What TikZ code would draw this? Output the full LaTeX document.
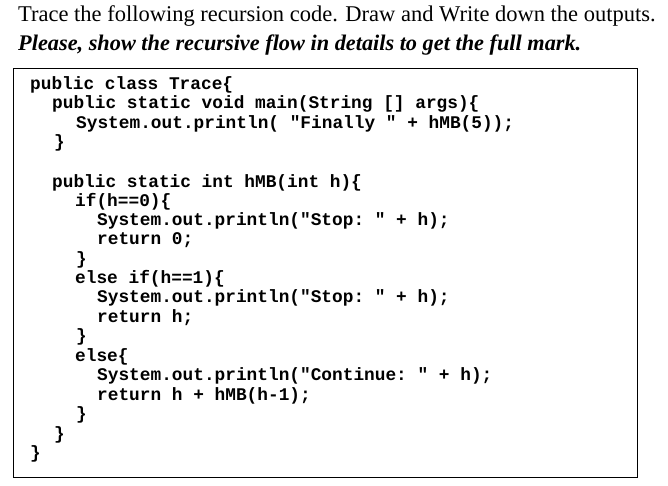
\documentclass[tikz,border=0pt]{standalone}
\usepackage{fontspec}
\setmainfont{Liberation Serif}
\setmonofont{Liberation Mono}
\begin{document}
\begin{tikzpicture}[x=1pt,y=-1pt,
  code/.style={anchor=west,inner sep=0pt,font=\ttfamily\bfseries\fontsize{17.8}{19}\selectfont},
  ttl/.style={anchor=west,inner sep=0pt}]
\useasboundingbox (0,0) rectangle (668,485);
\node[ttl,font=\fontsize{22.5}{24}\selectfont] (t1) at (18,16) {Trace the following recursion code. Draw and Write down the outputs.};
\node[ttl,font=\bfseries\itshape\fontsize{22.3}{24}\selectfont] (t2) at (18,45) {Please, show the recursive flow in details to get the full mark.};
\node[draw,line width=0.8pt,minimum width=624pt,minimum height=409pt,anchor=north west,inner sep=0pt] (box) at (13,68) {};
\node[code] (l1) at (30,85) {public class Trace\{};
\node[code] (l2) at (52,104) {public static void main(String [] args)\{};
\node[code] (l3) at (76,124) {System.out.println( "Finally " + hMB(5));};
\node[code] (l4) at (54,143) {\}};
\node[code] (l5) at (52,183) {public static int hMB(int h)\{};
\node[code] (l6) at (75,202) {if(h==0)\{};
\node[code] (l7) at (97,221) {System.out.println("Stop: " + h);};
\node[code] (l8) at (97,240) {return 0;};
\node[code] (l9) at (76,260) {\}};
\node[code] (l10) at (75,279) {else if(h==1)\{};
\node[code] (l11) at (97,298) {System.out.println("Stop: " + h);};
\node[code] (l12) at (97,318) {return h;};
\node[code] (l13) at (76,337) {\}};
\node[code] (l14) at (75,357) {else\{};
\node[code] (l15) at (97,376) {System.out.println("Continue: " + h);};
\node[code] (l16) at (97,396) {return h + hMB(h-1);};
\node[code] (l17) at (76,415) {\}};
\node[code] (l18) at (54,435) {\}};
\node[code] (l19) at (30,454) {\}};
\end{tikzpicture}
\end{document}
